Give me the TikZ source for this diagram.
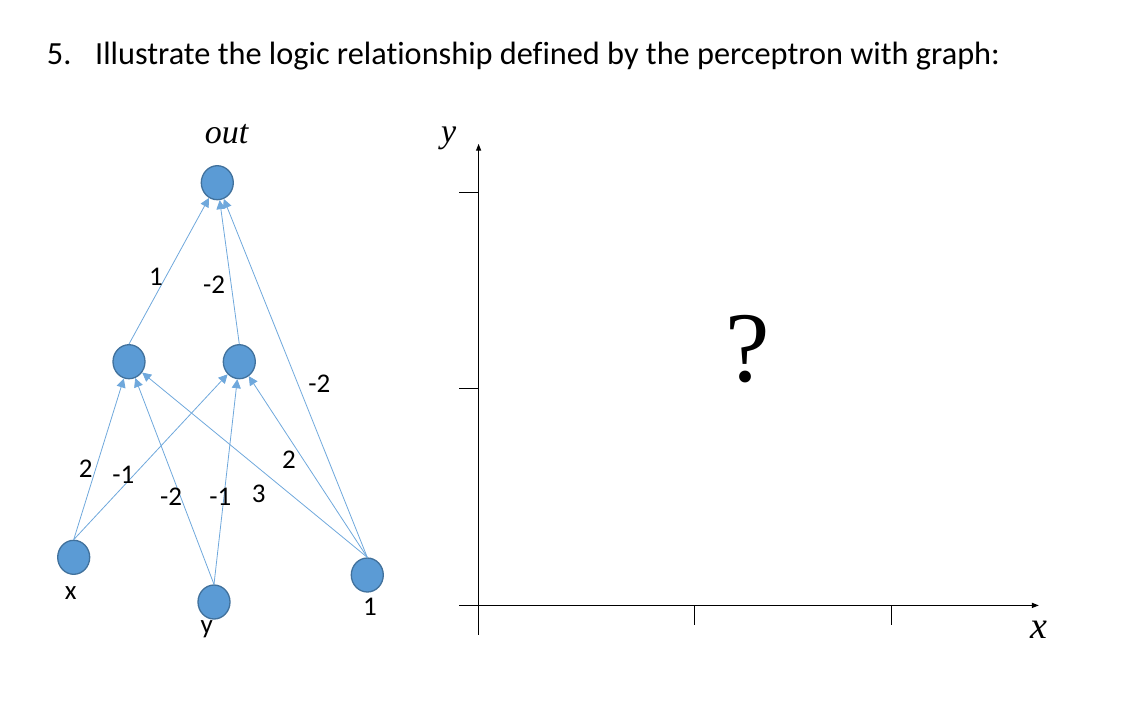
\documentclass[tikz,border=0pt]{standalone}
\usepackage{fontspec}
\setmainfont{Liberation Serif}
\newfontfamily\calib[Ligatures={NoCommon,NoRequired,NoContextual}]{Carlito}
\usetikzlibrary{arrows.meta,shapes.geometric}
\definecolor{nodefill}{HTML}{5B9BD5}
\definecolor{nodeline}{HTML}{41719C}
\definecolor{edgecol}{HTML}{6FA8DC}
\begin{document}
\begin{tikzpicture}[x=1pt,y=-1pt,
  neuron/.style={ellipse,draw=nodeline,fill=nodefill,line width=1.3pt,minimum width=32pt,minimum height=34pt,inner sep=0pt},
  conn/.style={draw=edgecol,line width=0.8pt,-{Triangle[length=9pt,width=9pt]}},
  wlab/.style={font=\calib\fontsize{27}{29}\selectfont,inner sep=0pt,anchor=center},
  axis/.style={line width=1.3pt,black},
  tick/.style={line width=1.3pt,black}]
\useasboundingbox (0,0) rectangle (1133,721);
% title
\node[font=\calib\fontsize{32.3}{40}\selectfont,anchor=base west,inner sep=0pt] (num) at (46.7,64) {5.};
\node[font=\calib\fontsize{32.3}{40}\selectfont,anchor=base west,inner sep=0pt] (title) at (95,64) {Illustrate the logic relationship defined by the perceptron with graph:};
% network
\node[neuron] (out) at (217.3,182.7) {};
\node[neuron] (h1) at (129,361.7) {};
\node[neuron] (h2) at (239.3,361.7) {};
\node[neuron] (X) at (73.7,557.3) {};
\node[neuron] (Y) at (214,602) {};
\node[neuron] (B) at (367.3,575) {};
\node[font=\itshape\fontsize{34}{36}\selectfont,inner sep=0pt] (outlab) at (226.7,134) {out};
\node[wlab] (xl) at (70.7,592.7) {x};
\node[wlab] (yl) at (206.7,629) {y};
\node[wlab] (bl) at (370,607.3) {1};
\draw[conn] (X.north) -- (h1);
\draw[conn] (X.north) -- (h2);
\draw[conn] (Y.north) -- (h1);
\draw[conn] (Y.north) -- (h2);
\draw[conn] (B.north) -- (h1);
\draw[conn] (B.north) -- (h2);
\draw[conn] (h1.north) -- (out);
\draw[conn] (h2.north) -- (out);
\draw[conn] (B.north) -- (out);
\node[wlab] (w1) at (156,276.7) {1};
\node[wlab] (w2) at (214,285) {-2};
\node[wlab] (w3) at (319.3,383.3) {-2};
\node[wlab] (w4) at (85.7,468.3) {2};
\node[wlab] (w5) at (123.3,475) {-1};
\node[wlab] (w6) at (171,496.7) {-2};
\node[wlab] (w7) at (220.3,496.7) {-1};
\node[wlab] (w8) at (258.7,494.3) {3};
\node[wlab] (w9) at (289,459.3) {2};
% axes
\coordinate (ybot) at (478.6,634.6);
\coordinate (ytop) at (478.6,143.7);
\coordinate (xleft) at (459,605.4);
\coordinate (xright) at (1038.9,605.4);
\draw[axis,-{Triangle[length=7pt,width=5pt]}] (ybot) -- (ytop);
\draw[axis,-{Triangle[length=7pt,width=5pt]}] (xleft) -- (xright);
\coordinate (ty1a) at (459,192.2); \coordinate (ty1b) at (478.6,192.2);
\coordinate (ty2a) at (459,388.8); \coordinate (ty2b) at (478.6,388.8);
\coordinate (tx1a) at (694.6,605.4); \coordinate (tx1b) at (694.6,625);
\coordinate (tx2a) at (891.3,605.4); \coordinate (tx2b) at (891.3,625);
\draw[tick] (ty1a) -- (ty1b);
\draw[tick] (ty2a) -- (ty2b);
\draw[tick] (tx1a) -- (tx1b);
\draw[tick] (tx2a) -- (tx2b);
\node[font=\itshape\fontsize{34}{36}\selectfont,inner sep=0pt] (ylab) at (448.7,138) {y};
\node[font=\itshape\fontsize{38}{40}\selectfont,inner sep=0pt] (xlab) at (1039,630) {x};
\node[font=\fontsize{100}{100}\selectfont,inner sep=0pt] (q) at (748,349) {?};
\end{tikzpicture}
\end{document}
